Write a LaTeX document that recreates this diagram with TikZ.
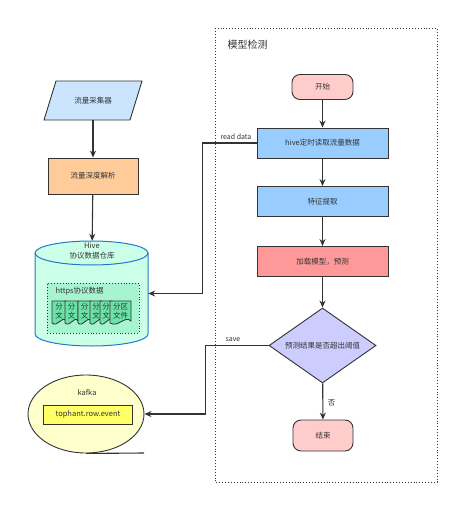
\documentclass[tikz,border=0pt]{standalone}
\usepackage{fontspec}
\setmainfont{Noto Sans CJK SC}
\usetikzlibrary{shapes.geometric,arrows.meta}

\definecolor{startpink}{HTML}{FFCCCC}
\definecolor{stepblue}{HTML}{99CCFF}
\definecolor{modelred}{HTML}{FF9999}
\definecolor{judgeviolet}{HTML}{CCCCFF}
\definecolor{collectblue}{HTML}{CCE5FF}
\definecolor{parseorange}{HTML}{FFCC99}
\definecolor{hivefill}{HTML}{CCFFE8}
\definecolor{hiveline}{HTML}{1E7BC8}
\definecolor{httpsfill}{HTML}{A6F5D0}
\definecolor{docfill}{HTML}{6BE3A8}
\definecolor{kafkafill}{HTML}{FFFFCC}
\definecolor{topicfill}{HTML}{FFFF66}
\definecolor{ink}{HTML}{333333}

\begin{document}
\begin{tikzpicture}[x=1pt, y=-1pt, >={Stealth[length=7pt, width=6pt]},
        every node/.style={font=\fontsize{7.5}{9}\selectfont, text=ink},
        box/.style={draw=ink, line width=0.9pt, inner sep=0pt},
        term/.style={box, rounded corners=8pt, fill=startpink, minimum width=61pt, minimum height=25pt},
        stepbox/.style={box, fill=stepblue, minimum width=131pt, minimum height=30pt},
        flow/.style={draw=ink, line width=1.1pt}]
    \useasboundingbox (0,0) rectangle (474,519);

    % 模型检测
    \draw[ink, dotted, line width=0.9pt] (215,28) rectangle (437,482);
    \node[anchor=west, font=\fontsize{10}{12}\selectfont] (title) at (224,45) {模型检测};

    \node[term] (start) at (322.5,87) {开始};
    \node[stepbox] (readhive) at (322.5,143) {hive定时读取流量数据};
    \node[stepbox] (feature) at (322.5,201.5) {特征提取};
    \node[box, fill=modelred, minimum width=131pt, minimum height=30pt] (predict) at (322.5,261.5) {加载模型，预测};
    \node[box, diamond, aspect=1.43, fill=judgeviolet, minimum width=107pt, minimum height=75pt] (judge) at (322.5,345.5) {预测结果是否超出阈值};
    \node[term, minimum height=31pt, minimum width=60pt] (finish) at (323,435.5) {结束};

    \draw[->, flow] (start) -- (readhive);
    \draw[->, flow] (readhive) -- (feature);
    \draw[->, flow] (feature) -- (predict);
    \draw[->, flow] (predict) -- (judge);
    \draw[->, flow] (judge) -- (finish);
    \node (no) at (331.5,403) {否};

    % 左侧数据流
    \draw[box, fill=collectblue] (56,81) -- (142,81) -- (130,120) -- (44,120) -- cycle;
    \node[minimum width=86pt, minimum height=39pt, inner sep=0pt] (collector) at (93,100.5) {流量采集器};
    \node[box, fill=parseorange, minimum width=90pt, minimum height=36pt] (parse) at (93,176) {流量深度解析};

    \node[minimum width=113pt, minimum height=105pt, inner sep=0pt] (hive) at (91.5,293.5) {};
    \draw[hiveline, fill=hivefill, line width=1pt] (35,253) -- (35,334)
        arc[start angle=180, end angle=0, x radius=56.5, y radius=12] -- (148,253)
        arc[start angle=360, end angle=180, x radius=56.5, y radius=12] -- cycle;
    \draw[hiveline, line width=1pt] (35,253) arc[start angle=180, end angle=0, x radius=56.5, y radius=12];
    \node[align=center, font=\fontsize{7.5}{10}\selectfont] (hivetext) at (92,250.5) {Hive\\协议数据仓库};

    \node[draw=ink, dotted, line width=0.9pt, fill=httpsfill, minimum width=92pt, minimum height=50pt] (https) at (93,308) {};
    \node[anchor=west] (httpstext) at (52,291) {https协议数据};
    \foreach \x/\w/\t in {52/14/{分\\文}, 65/13/{分\\文}, 78/13/{分\\文}, 90/12/{分\\文}, 100/12/{分\\文}, 110/21/{分区\\文件}} {
        \draw[ink, fill=docfill, line width=0.8pt] (\x,301) -- (\x+\w,301) -- (\x+\w,321)
            .. controls (\x+0.7*\w,315) and (\x+0.4*\w,328) .. (\x,323) -- cycle;
        \node[align=center, inner sep=0pt, font=\fontsize{7.5}{9}\selectfont] at (\x+0.5*\w,311.5) {\t};
    }

    \draw[->, flow] (collector) -- (parse);
    \draw[->, flow] (parse) -- (hive);

    % kafka
    \node[box, ellipse, fill=kafkafill, minimum width=116pt, minimum height=78pt] (kafka) at (86,414) {};
    \node (kafkatext) at (87,393) {kafka};
    \node[box, fill=topicfill, minimum width=89pt, minimum height=19pt] (topic) at (88,414.5) {tophant.row.event};
    \coordinate (tail) at (144,453);
    \draw[flow] (kafka.south) -- (tail);

    % 连接
    \draw[->, flow] (readhive.west) -- ++(-54,0) |- (hive.east);
    \node[anchor=west, font=\fontsize{7}{8}\selectfont] (readlabel) at (217,136.5) {read data};
    \draw[->, flow] (judge.west) -- ++(-63,0) |- (kafka.east);
    \node[font=\fontsize{7}{8}\selectfont] (savelabel) at (233,339.5) {save};
\end{tikzpicture}
\end{document}
